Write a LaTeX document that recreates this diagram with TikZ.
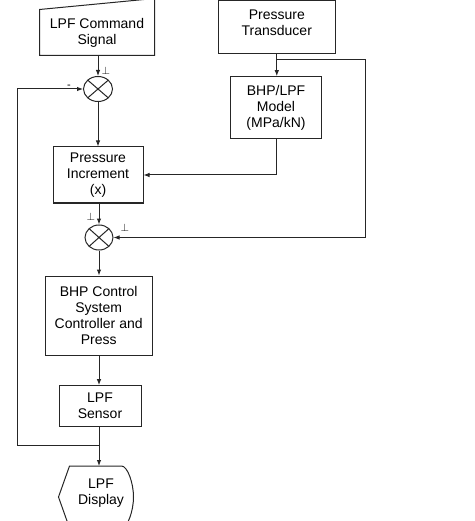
\documentclass[tikz,border=0pt]{standalone}
\usepackage{fontspec}
\setmainfont{Liberation Sans}
\usetikzlibrary{calc}
\usetikzlibrary{positioning}
\usetikzlibrary{shapes.geometric}
\usetikzlibrary{arrows.meta}
\tikzset{
	>={Latex[length=6pt,width=4.5pt]},
	block/.style={
		rectangle,
		draw=black!85, line width=1pt,
		align=center,
		inner sep=0pt},
	summer/.style={
		ellipse,
		draw=black!85, line width=1pt,
		inner sep=0pt,
		minimum width=29pt,
		minimum height=25pt,
		path picture={
			\draw[line width=1pt, black!85]
				(path picture bounding box.north west) -- (path picture bounding box.south east)
				(path picture bounding box.north east) -- (path picture bounding box.south west);}},
	line/.style={draw=black!85, line width=1pt, ->},
	wire/.style={draw=black!85, line width=1pt},
	sgn/.style={font=\fontsize{11}{11}\selectfont, inner sep=0pt},
}

\begin{document}
\begin{tikzpicture}[x=1pt, y=-1pt, font=\fontsize{14}{16}\selectfont]
	\useasboundingbox (0,0) rectangle (474,521);
	% left column
	\node[block, draw=none, minimum width=114pt, minimum height=45pt] (cmd) at (97,32.5) {LPF Command\\Signal};
	\draw[wire] (cmd.south west) -- (cmd.north west) -- ([yshift=11pt]cmd.north east) -- (cmd.south east) -- cycle;
	\node[summer] (sum1) at (98,89) {};
	\node[block, minimum width=90pt, minimum height=56pt] (pinc) at (98,175) {Pressure\\Increment\\(x)};
	\node[summer, minimum width=28pt] (sum2) at (99,237.5) {};
	\node[block, minimum width=107pt, minimum height=79pt] (bhp) at (98.7,315.5) {BHP Control\\System\\Controller and\\Press};
	\node[block, minimum width=82pt, minimum height=41pt] (sens) at (100,406.2) {LPF\\Sensor};
	\node[block, draw=none, minimum width=74pt, minimum height=61pt,
		label={[align=center, xshift=5pt, yshift=4pt]center:LPF\\Display}] (disp) at (96,497) {};
	\draw[wire] ([xshift=11pt]disp.north west) -- ([xshift=-12pt]disp.north east)
		.. controls ([xshift=-6pt]disp.north east) and ([yshift=14pt]disp.east) .. (disp.east)
		.. controls ([yshift=-14pt]disp.east) and ([xshift=-6pt]disp.south east) .. ([xshift=-12pt]disp.south east)
		-- ([xshift=11pt]disp.south west) -- (disp.west) -- cycle;
	% right column
	\node[block, minimum width=117pt, minimum height=53pt,
		label={[align=center, yshift=4pt]center:Pressure\\Transducer}] (pt) at (276.8,26.7) {};
	\node[block, minimum width=90.6pt, minimum height=61.6pt] (model) at (276,107.5) {BHP/LPF\\Model\\(MPa/kN)};
	% signs
	\node[sgn] (s1) at ([shift={(8,-18)}]sum1) {$\perp$};
	\node[sgn] (s2) at ([shift={(-29,-2)}]sum1) {-};
	\node[sgn] (s3) at ([shift={(-8,-21)}]sum2) {$\perp$};
	\node[sgn] (s4) at ([shift={(26,-10)}]sum2) {$\perp$};
	% connectors
	\coordinate (fb) at (17.3,445.7);
	\coordinate (rt) at (365.7,60);
	\draw[line] (sum1 |- cmd.south) -- (sum1.north);
	\draw[line] (sum1.south) -- (pinc.north);
	\draw[line] (sum2 |- pinc.south) -- (sum2.north);
	\draw[line] (sum2.south) -- (sum2 |- bhp.north);
	\draw[line] (sum2 |- bhp.south) -- (sum2 |- sens.north);
	\draw[line] (sum2 |- sens.south) -- (sum2 |- disp.north);
	\draw[line] (sum2 |- fb) -- (fb) -- (fb |- sum1) -- (sum1.west);
	\draw[line] (pt.south) -- (pt.south |- model.north);
	\draw[line] (pt.south |- rt) -- (rt) -- (rt |- sum2) -- (sum2.east);
	\draw[line] (model.south) |- (pinc.east);
\end{tikzpicture}
\end{document}
